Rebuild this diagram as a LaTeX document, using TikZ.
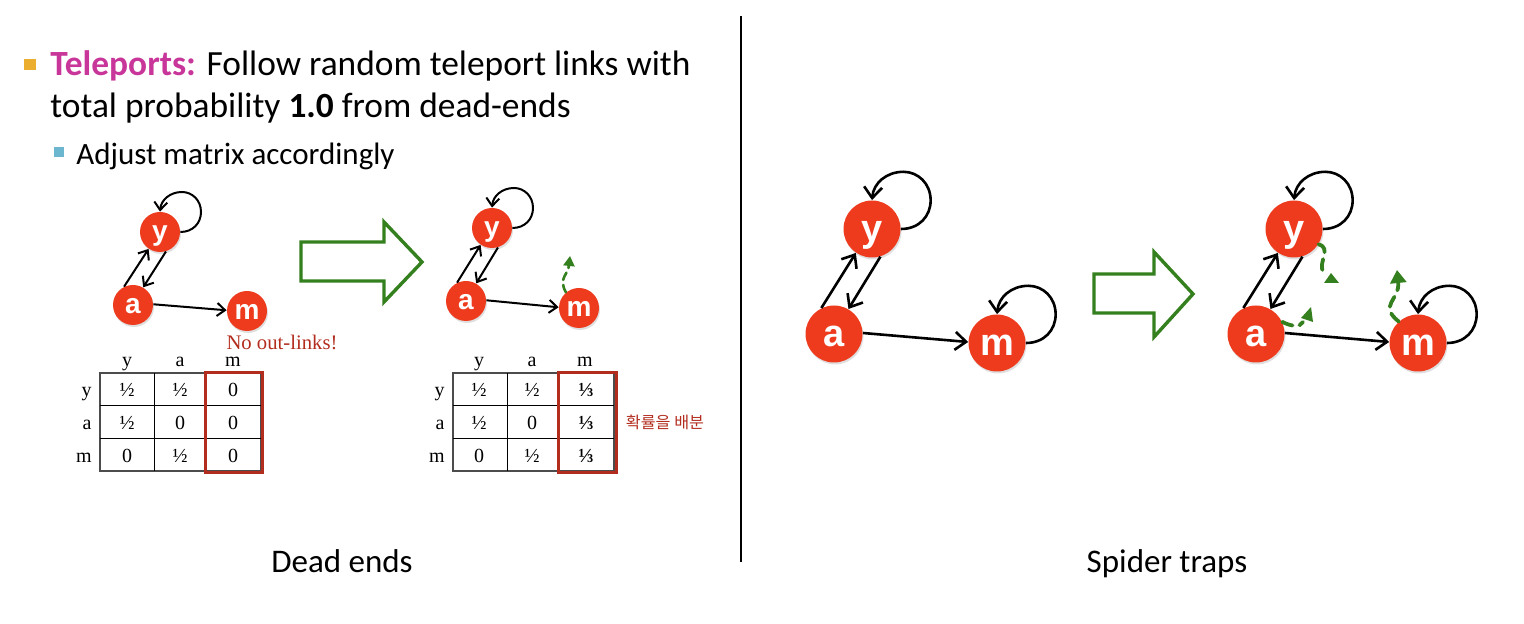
\documentclass[tikz,border=0pt]{standalone}
\usepackage{fontspec}
\setmainfont{Carlito}
\newfontfamily\serifcell{Liberation Serif}
\newfontfamily\labelsans{Liberation Sans}
\newfontfamily\koreanfont{Noto Sans CJK KR}
\usetikzlibrary{arrows.meta,shadows}

\definecolor{nodered}{HTML}{EE3B1E}
\definecolor{teleportgreen}{HTML}{34801E}
\definecolor{boxred}{HTML}{B22D1E}
\definecolor{titlepink}{HTML}{C8369A}
\definecolor{bulletorange}{HTML}{EBAE2F}
\definecolor{bulletblue}{HTML}{6DB6CF}

\tikzset{
    smallnode/.style={circle,fill=nodered,draw=none,inner sep=0,minimum size=20pt,text=white,
        text height=9pt,text depth=0pt,
        font=\labelsans\bfseries\fontsize{14}{14}\selectfont,drop shadow={opacity=0.25,shadow xshift=0.5pt,shadow yshift=-1pt}},
    bignode/.style={smallnode,minimum size=28.5pt,text height=12.5pt,font=\labelsans\bfseries\fontsize{19}{19}\selectfont},
    smalllink/.style={line width=1pt,-{Straight Barb[length=4pt,width=6.5pt]}},
    biglink/.style={line width=1.3pt,-{Straight Barb[length=5.5pt,width=9pt]}},
    bigarrow/.style={draw=teleportgreen,fill=white,line width=1.7pt,miter limit=10},
    teleport/.style={teleportgreen,line width=1.9pt,line cap=round,dash pattern=on 5.5pt off 3.5pt},
    cell/.style={font=\serifcell\fontsize{10}{10}\selectfont,inner sep=0,text height=6.5pt,text depth=0pt},
    slide/.style={anchor=base west,inner sep=0},
    caption/.style={anchor=base,font=\fontsize{16.5}{16.5}\selectfont,inner sep=0}
}

\begin{document}
\begin{tikzpicture}[x=0.5pt,y=-0.5pt]
    \useasboundingbox (0,0) rectangle (1524,624);

    % divider and captions
    \draw [line width=0.75pt] (741,16) -- (741,562);
    \node [caption] (deadends) at (342,572) {Dead ends};
    \node [caption] (spidertraps) at (1167,572) {Spider traps};

    % slide text
    \fill [bulletorange] (24,59) rectangle (36,70);
    \fill [bulletblue] (54,147) rectangle (64,157);
    \node [slide,font=\fontsize{17.7}{17.7}\selectfont] (line1) at (50,76)
        {\textcolor{titlepink}{\textbf{Teleports:}} Follow random teleport links with};
    \node [slide,font=\fontsize{17.7}{17.7}\selectfont] (line2) at (50,118)
        {total probability \textbf{1.0} from dead-ends};
    \node [slide,font=\fontsize{15.5}{15.5}\selectfont] (line3) at (76,165)
        {Adjust matrix accordingly};

    % the four graphs
    \foreach \g/\s/\xy/\ya/\xa/\yb/\xm/\ym in {
        p/smallnode/160/232/133/305/247/311,
        q/smallnode/492/228/466/301/579/308,
        r/bignode/872/229/834/334/997/343,
        s/bignode/1294/229/1256/334/1418/343} {
        \node [\s] (y\g) at (\xy,\ya) {y};
        \node [\s] (a\g) at (\xa,\yb) {a};
        \node [\s] (m\g) at (\xm,\ym) {m};
    }
    \foreach \g/\w in {p/smalllink,q/smalllink,r/biglink,s/biglink} {
        \draw [\w] (a\g.116) -- (y\g.236);
        \draw [\w] (y\g.-73) -- (a\g.60);
        \draw [\w] (a\g.2) -- (m\g.178);
    }

    % self loops
    \foreach \n/\w/\k in {yp/smalllink/1,yq/smalllink/1,yr/biglink/1.43,ys/biglink/1.43,mr/biglink/1.43,ms/biglink/1.43} {
        \draw [\w,shift={(\n)},scale=\k] (\n.0) .. controls (33,0) and (41,-9) .. (41,-20)
            .. controls (41,-32) and (32,-40) .. (22,-40)
            .. controls (10,-40) and (1,-32) .. (\n.90);
    }

    % green block arrows
    \draw [bigarrow] (301,242) -- (384,242) -- (384,222) -- (422,262) -- (384,302) -- (384,281) -- (301,281) -- cycle;
    \draw [bigarrow] (1094,274) -- (1154,274) -- (1154,252) -- (1193,294) -- (1154,337) -- (1154,313) -- (1094,313) -- cycle;

    % teleport links
    \coordinate (tipq) at (570,256);
    \coordinate (tipm) at (1397,270);
    \coordinate (endy) at (1323,272);
    \coordinate (enda) at (1303,322);
    \draw [teleport,line width=1.3pt,dash pattern=on 4pt off 2.5pt,-{Triangle[length=5pt,width=5.5pt]}]
        (mq.130) .. controls (558,278) and (568,275) .. (tipq);
    \draw [teleport,-{Triangle[length=6.5pt,width=8pt]}]
        (ms.132) .. controls (1378,305) and (1400,300) .. (tipm);
    \draw [teleport] (ys.-32) .. controls (1332,248) and (1318,262) .. (endy);
    \draw [teleport] (as.25) .. controls (1290,326) and (1300,328) .. (enda);
    \fill [teleportgreen] (1324,283) -- (1339,283) -- (1331,273) -- cycle;
    \fill [teleportgreen] (1301,318) -- (1313,322) -- (1311,307) -- cycle;

    % tables
    \draw [line width=0.75pt,draw=black!70] (100,373) rectangle (261,471);
    \draw [line width=0.75pt,draw=black!70] (453,373) rectangle (614,471);
    \foreach \x in {0,353} {
        \draw [line width=0.5pt] (100+\x,406) -- (261+\x,406);
        \draw [line width=0.5pt] (100+\x,439) -- (261+\x,439);
        \draw [line width=0.5pt] (154+\x,373) -- (154+\x,471);
    }
    \draw [draw=boxred,line width=1.5pt] (205,373) rectangle (262,472);
    \draw [draw=boxred,line width=1.5pt] (558,373) rectangle (616,472);

    \foreach \x/\y/\v in {
        127/360/y,180/360/a,233/360/m,
        127/390/½,180/390/½,233/390/0,
        127/423/½,180/423/0,233/423/0,
        127/456/0,180/456/½,233/456/0,
        479/360/y,532/360/a,585/360/m,
        479/390/½,532/390/½,586/390/\bfseries ⅓,
        479/423/½,532/423/0,586/423/\bfseries ⅓,
        479/456/0,532/456/½,586/456/\bfseries ⅓} {
        \node [cell] (c\x-\y) at (\x,\y) {\v};
    }
    \foreach \x in {92,445} {
        \node [cell,anchor=east] (ry\x) at (\x,390) {y};
        \node [cell,anchor=east] (ra\x) at (\x,423) {a};
        \node [cell,anchor=east] (rm\x) at (\x,456) {m};
    }

    % red notes
    \node [font=\serifcell\fontsize{10.35}{10.35}\selectfont,text=boxred,inner sep=0] (nolinks) at (282,342) {No out-links!};
    \node [font=\koreanfont\fontsize{8.1}{8.1}\selectfont,text=boxred,inner sep=0] (note) at (665,422) {확률을 배분};
\end{tikzpicture}
\end{document}
